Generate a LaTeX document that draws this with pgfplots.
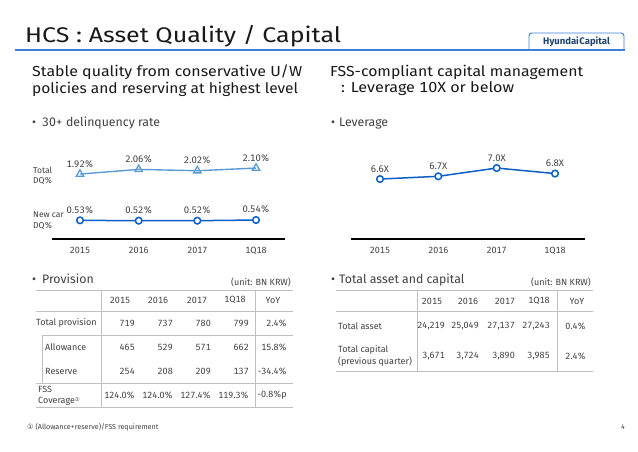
\documentclass[border=0pt]{standalone}
\usepackage{fontspec}
\setmainfont{Fira Sans}[Numbers={Lining,Monospaced}]
\newfontfamily\dejavu{DejaVu Sans}
\usepackage{graphicx}
\usepackage{pgfplots}
\pgfplotsset{compat=1.18}
\definecolor{titleblue}{HTML}{3D7FD9}
\definecolor{lightblue}{HTML}{5B9BD5}
\definecolor{darkblue}{HTML}{0B5FC7}
\definecolor{textgray}{HTML}{404040}
\definecolor{tline}{HTML}{BFBFBF}
\definecolor{logotext}{HTML}{1F4470}
\newcommand{\fs}[1]{\fontsize{#1}{#1}\selectfont}
\newcommand{\tbl}{\fs{9}}
\newcommand{\hd}{\fs{12.3}}
\begin{document}
\begin{tikzpicture}[x=1pt,y=1pt]
\path[use as bounding box, fill=white] (0,0) rectangle (638,451);
\begin{scope}[shift={(0,451)}, yscale=-1, every node/.style={inner sep=0pt, text=textgray}]
% title
\node[anchor=base west, text=black!90] at (25,42.5) {\resizebox{316pt}{\height}{\fs{21.2}HCS : Asset Quality / Capital}};
\draw[titleblue, line width=1.4pt] (15,50) -- (625,50);
\draw[titleblue, line width=0.9pt, rounded corners=3pt] (529,50) -- (529,33) -- (624,33) -- (624,50);
\node[text=logotext] at (576.5,42) {\fs{9.5}\bfseries Hyundai\hspace{0.5pt}Capital};
% subtitles
\node[anchor=base west, text=black!90] at (32,76.5) {\resizebox{270pt}{\height}{\fs{14.5}Stable quality from conservative U/W}};
\node[anchor=base west, text=black!90] at (32,93) {\resizebox{266pt}{\height}{\fs{14.5}policies and reserving at highest level}};
\node[anchor=base west, text=black!90] at (330,76.5) {\resizebox{253pt}{\height}{\fs{14.5}FSS-compliant capital management}};
\node[anchor=base west, text=black!90] at (341,93) {\resizebox{173pt}{\height}{\fs{14.5}: Leverage 10X or below}};
% bullets
\node[anchor=base west] at (32,126) {\hd•};
\node[anchor=base west] at (42,126) {\hd 30+ delinquency rate};
\node[anchor=base west] at (331,126) {\hd•};
\node[anchor=base west] at (339,126) {\hd Leverage};
\node[anchor=base west] at (32,283) {\hd•};
\node[anchor=base west] at (42,283) {\hd Provision};
\node[anchor=base west] at (331,283) {\hd•};
\node[anchor=base west] at (339,283) {\hd Total asset and capital};
\node[anchor=east] at (291,282) {\fs{9}(unit: BN KRW)};
\node[anchor=east] at (591,282) {\fs{9}(unit: BN KRW)};
% series names
\node[anchor=west] at (33,170) {\fs{8.5}Total};
\node[anchor=west] at (33,181) {\fs{8.5}DQ\%};
\node[anchor=west] at (33,215) {\fs{8.5}New car};
\node[anchor=west] at (33,226) {\fs{8.5}DQ\%};
% left table lines
\draw[tline, line width=0.8pt] (36,290) -- (293,290);
\draw[tline, line width=0.8pt] (36,311) -- (293,311);
\draw[tline, line width=0.6pt] (42,335) -- (293,335);
\draw[tline, line width=0.8pt] (36,383) -- (293,383);
\draw[tline, line width=0.8pt] (36,407) -- (293,407);
\draw[tline, line width=0.6pt] (101,290) -- (101,407);
\draw[tline, line width=0.6pt] (255,290) -- (255,407);
\draw[tline, line width=0.6pt] (42,335) -- (42,383);
% left table
\foreach \x/\t in {120/2015,158/2016,197/2017,235/1Q18,273/YoY} \node at (\x,300) {\tbl\t};
\node[anchor=west] at (36,323) {\tbl Total provision};
\node[anchor=west] at (45,347) {\tbl Allowance};
\node[anchor=west] at (45,371) {\tbl Reserve};
\node[anchor=west] at (38,389) {\tbl FSS};
\node[anchor=west] at (38,401) {\tbl Coverage\raisebox{2pt}{\dejavu\fs{5.5}①}};
\foreach \x/\t in {135/719,173/737,211/780,249/799,287/2.4\%} \node[anchor=east] at (\x,323) {\tbl\t};
\foreach \x/\t in {135/465,173/529,211/571,249/662,287/15.8\%} \node[anchor=east] at (\x,347) {\tbl\t};
\foreach \x/\t in {135/254,173/208,211/209,249/137,287/-34.4\%} \node[anchor=east] at (\x,371) {\tbl\t};
\foreach \x/\t in {135/124.0\%,173/124.0\%,211/127.4\%,249/119.3\%,287/-0.8\%p} \node[anchor=east] at (\x,395) {\tbl\t};
% right table lines
\draw[tline, line width=0.8pt] (336,290) -- (593,290);
\draw[tline, line width=0.8pt] (336,311) -- (593,311);
\draw[tline, line width=0.8pt] (336,371) -- (593,371);
\draw[tline, line width=0.6pt] (417,290) -- (417,371);
\draw[tline, line width=0.6pt] (557,290) -- (557,371);
\foreach \x/\t in {432/2015,468/2016,505/2017,539/1Q18,577/YoY} \node at (\x,301) {\tbl\t};
\node[anchor=west] at (338,326) {\tbl Total asset};
\node[anchor=west] at (338,350) {\tbl Total capital};
\node[anchor=west] at (338,362) {\tbl (previous quarter)};
\foreach \x/\t in {445/{24,219},479/{25,049},515/{27,137},550/{27,243},586/0.4\%} \node[anchor=east] at (\x,326) {\tbl\t};
\foreach \x/\t in {445/{3,671},479/{3,724},515/{3,890},550/{3,985},586/2.4\%} \node[anchor=east] at (\x,356) {\tbl\t};
% footer
\node[anchor=west] at (27,427) {\fs{7.2}{\dejavu ①} (Allowance+reserve)/FSS requirement};
\node at (623,427) {\fs{7}4};
\end{scope}
% left chart
\begin{axis}[at={(52pt,212pt)}, anchor=south west, scale only axis,
  width=233pt, height=99pt, xmin=-0.477, xmax=3.494, ymin=-0.03, ymax=2.943,
  axis x line=bottom, axis y line=none, x axis line style={-, line width=1.3pt, black},
  xtick={0,1,2,3}, xticklabels={2015,2016,2017,1Q18}, xtick style={draw=none},
  xticklabel style={font=\fs{9}, text=textgray, yshift=-3pt},
  /pgf/number format/assume math mode=true,
  clip=false, point meta=explicit symbolic, nodes near coords,
  nodes near coords style={font=\fs{9.5}, text=textgray, anchor=south, yshift=6pt, inner sep=0pt}]
\addplot[lightblue, line width=1.4pt, mark=triangle, mark size=4.3pt, mark options={fill=white, line width=1.3pt}]
  coordinates {(0,1.92) [1.92\%] (1,2.06) [2.06\%] (2,2.02) [2.02\%] (3,2.10) [2.10\%]};
\addplot[darkblue, line width=1.5pt, mark=*, mark size=3.3pt, mark options={fill=white, line width=1.5pt}]
  coordinates {(0,0.53) [0.53\%] (1,0.52) [0.52\%] (2,0.52) [0.52\%] (3,0.54) [0.54\%]};
\end{axis}
% right chart
\begin{axis}[at={(351pt,212pt)}, anchor=south west, scale only axis,
  width=234pt, height=99pt, xmin=-0.497, xmax=3.514, ymin=4.42, ymax=8.02,
  axis x line=bottom, axis y line=none, x axis line style={-, line width=1.3pt, black},
  xtick={0,1,2,3}, xticklabels={2015,2016,2017,1Q18}, xtick style={draw=none},
  xticklabel style={font=\fs{9}, text=textgray, yshift=-3pt},
  /pgf/number format/assume math mode=true,
  clip=false, point meta=explicit symbolic, nodes near coords,
  nodes near coords style={font=\fs{9.5}, text=textgray, anchor=south, yshift=6pt, inner sep=0pt}]
\addplot[darkblue, line width=1.5pt, mark=*, mark size=3.3pt, mark options={fill=white, line width=1.5pt}]
  coordinates {(0,6.6) [6.6X] (1,6.7) [6.7X] (2,7.0) [7.0X] (3,6.8) [6.8X]};
\end{axis}
\end{tikzpicture}
\end{document}
